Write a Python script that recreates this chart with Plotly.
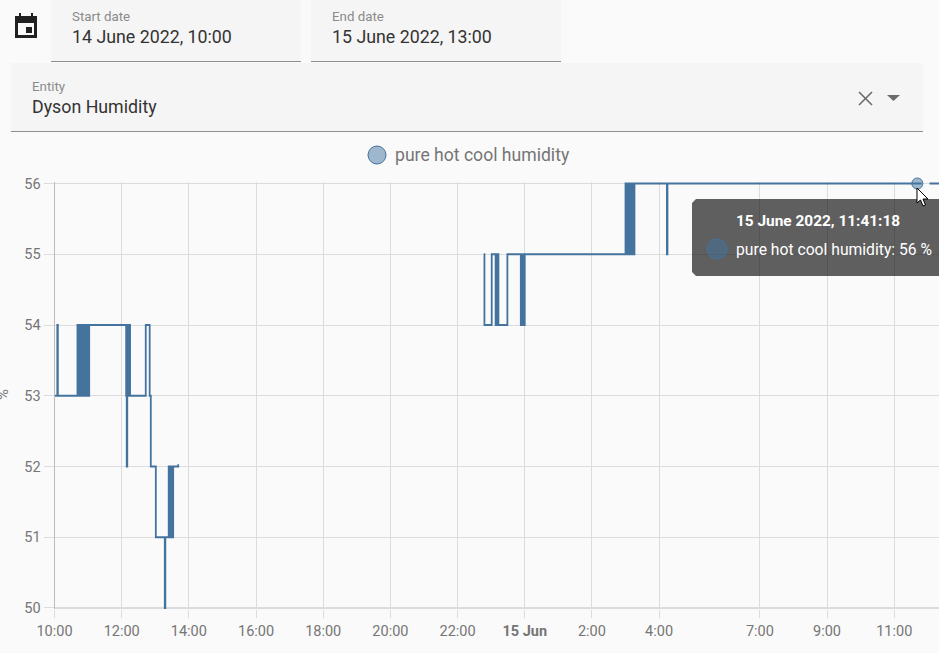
import plotly.graph_objects as go

W, H = 939, 653

# humidity readings
morning_times = ["10:00", "10:05", "10:06", "10:41", "10:43", "10:44", "10:46", "10:47", "10:48",
                 "10:50", "10:51", "10:54", "10:55", "10:58", "10:59", "11:02",
                 "12:08", "12:09", "12:10", "12:11", "12:12", "12:14", "12:15", "12:43", "12:50", "12:52",
                 "13:01", "13:17", "13:18", "13:24", "13:25", "13:27", "13:28", "13:30", "13:31",
                 "13:32", "13:40", "13:41"]
morning_values = [53, 54, 53, 54, 53, 54, 53, 54, 53,
                  54, 53, 54, 53, 54, 53, 54,
                  53, 52, 53, 54, 53, 54, 53, 54, 53, 52,
                  51, 50, 51, 52, 51, 52, 51, 52, 51,
                  52, 52, 52.03]

night_times = ["22:47", "22:48", "23:01", "23:08", "23:09", "23:10", "23:12", "23:13", "23:14", "23:29",
               "23:53", "23:54", "23:56", "23:57", "23:59"]
night_values = [55, 54, 55, 54, 55, 54, 55, 54, 54, 55,
                54, 55, 54, 55, 54]

next_times = ["00:00", "03:00", "03:01", "03:03", "03:04", "03:06", "03:09", "03:10", "03:12", "03:13", "03:15",
              "03:16", "04:14", "04:15", "11:49"]
next_values = [55, 56, 55, 56, 55, 56, 55, 56, 55, 56, 55,
               56, 55, 56, 56]

last_times = ["12:03", "12:20"]
last_values = [56, 56]

hover_time = "2022-06-15 11:41:18"
hover_value = 56

tick_times = ["2022-06-14 10:00", "2022-06-14 12:00", "2022-06-14 14:00", "2022-06-14 16:00", "2022-06-14 18:00",
              "2022-06-14 20:00", "2022-06-14 22:00", "2022-06-15 00:00", "2022-06-15 02:00", "2022-06-15 04:00",
              "2022-06-15 07:00", "2022-06-15 09:00", "2022-06-15 11:00"]
tick_labels = ["10:00", "12:00", "14:00", "16:00", "18:00", "20:00", "22:00", "<b>15 Jun</b>", "2:00", "4:00",
               "7:00", "9:00", "11:00"]
y_ticks = [50, 51, 52, 53, 54, 55, 56]

BLUE = "#44739e"
BLUE_FILL = "rgba(68,115,158,0.5)"
GREY = "#757575"
GRID = "#dcdcdc"
FONT = "Roboto"


def px(x):
    return x / W


def py(y):
    return 1 - y / H


times = [f"2022-06-14 {t}" for t in morning_times] + [None]
values = morning_values + [None]
times += [f"2022-06-14 {t}" for t in night_times] + [f"2022-06-15 {t}" for t in next_times] + [None]
values += night_values + next_values + [None]
times += [f"2022-06-15 {t}" for t in last_times]
values += last_values

fig = go.Figure()
fig.add_trace(go.Scatter(x=times, y=values, mode="lines", line=dict(color=BLUE, width=1.8, shape="hv"),
                         connectgaps=False, showlegend=False))
fig.add_trace(go.Scatter(x=[hover_time], y=[hover_value], mode="markers", cliponaxis=False, showlegend=False,
                         marker=dict(size=11, color=BLUE_FILL, line=dict(color=BLUE, width=1))))


def box(x0, y0, x1, y1, **kw):
    fig.add_shape(type="rect", xref="paper", yref="paper", x0=px(x0), x1=px(x1), y0=py(y1), y1=py(y0),
                  layer=kw.pop("layer", "below"), **kw)


def path(points, **kw):
    d = "M " + " L ".join(f"{px(x):.5f},{py(y):.5f}" for x, y in points) + " Z"
    fig.add_shape(type="path", xref="paper", yref="paper", path=d, **kw)


def circle(cx, cy, r, **kw):
    fig.add_shape(type="circle", xref="paper", yref="paper", x0=px(cx - r), x1=px(cx + r),
                  y0=py(cy + r), y1=py(cy - r), **kw)


def label(x, y, text, size, color, anchor="left", **kw):
    fig.add_annotation(xref="paper", yref="paper", x=px(x), y=py(y), text=text, showarrow=False, xanchor=anchor,
                       yanchor="middle", font=dict(family=FONT, size=size, color=color), **kw)


# form fields above the chart
for x0, x1 in [(51, 301), (311, 561)]:
    box(x0, 0, x1, 61, fillcolor="#f5f5f5", line_width=0)
    box(x0, 61, x1, 62, fillcolor="#8e8e8e", line_width=0)
box(11, 63, 923, 131, fillcolor="#f5f5f5", line_width=0)
box(11, 131, 923, 132, fillcolor="#8e8e8e", line_width=0)

label(70, 16, "Start date", 13.3, "#8a8a8a")
label(70, 36, "14 June 2022, 10:00", 17.8, "#333333")
label(330, 16, "End date", 13.3, "#8a8a8a")
label(330, 36, "15 June 2022, 13:00", 17.8, "#333333")
label(30, 86, "Entity", 13.3, "#8a8a8a")
label(30, 106, "Dyson Humidity", 17.8, "#333333")

# calendar icon
box(15, 16, 37, 38, fillcolor="#212121", line_width=0, layer="above")
box(18, 23, 34, 35, fillcolor="#fafafa", line_width=0, layer="above")
box(26, 27, 32, 33, fillcolor="#212121", line_width=0, layer="above")
box(19, 13, 21, 17, fillcolor="#212121", line_width=0, layer="above")
box(31, 13, 33, 17, fillcolor="#212121", line_width=0, layer="above")

# clear and dropdown icons
for a, b in [((859, 92), (872, 105)), ((872, 92), (859, 105))]:
    fig.add_shape(type="line", xref="paper", yref="paper", x0=px(a[0]), y0=py(a[1]), x1=px(b[0]), y1=py(b[1]),
                  line=dict(color="#6b6b6b", width=1.6))
path([(887, 95), (900, 95), (893.5, 101)], fillcolor="#6b6b6b", line_width=0)

# legend
circle(377, 155, 9, fillcolor=BLUE_FILL, line=dict(color=BLUE, width=1))
label(393, 155, "pure hot cool humidity", 17.6, GREY)

# y axis title, cut off by the window edge
label(3, 395, "%", 15, GREY, anchor="center", textangle=-90)

# bottom axis line sits on the 50 gridline
fig.add_shape(type="line", xref="paper", yref="y", x0=px(54.5), x1=1, y0=50, y1=50, layer="below",
              line=dict(color="#bcbcbc", width=1))

# tooltip
path([(696, 199), (945, 199), (945, 276), (696, 276), (692, 272), (692, 203)],
     fillcolor="rgba(0,0,0,0.62)", line_width=0, layer="above")
circle(717, 249, 10, fillcolor=BLUE_FILL, line=dict(color=BLUE, width=1), layer="above")
label(734, 221, "<b>15 June 2022, 11:41:18</b>", 15.4, "#ffffff")
label(734, 249, "pure hot cool humidity: 56 %", 15.7, "#ffffff")

# mouse pointer
path([(917, 188), (917, 203), (920.5, 200), (923, 206), (925.5, 205), (923, 199), (928, 199)],
     fillcolor="#ffffff", line=dict(color="#000000", width=1), layer="above")

fig.update_layout(
    width=W, height=H, margin=dict(l=0, r=0, t=0, b=0, autoexpand=False),
    paper_bgcolor="#fafafa", plot_bgcolor="#fafafa",
    font=dict(family=FONT, size=14.5, color=GREY),
    xaxis=dict(domain=[px(54.5), 1], type="date", range=["2022-06-14 10:00", "2022-06-15 12:20"],
               tickmode="array", tickvals=tick_times, ticktext=tick_labels, tickangle=0,
               gridcolor=GRID, gridwidth=1, showline=False,
               ticks="outside", ticklen=8, tickcolor=GRID, zeroline=False),
    # a little headroom so the 50 and 56 runs are not clipped by the plot area
    yaxis=dict(domain=[py(609.4), py(182.1)], range=[49.98, 56.02], tickmode="array", tickvals=y_ticks,
               gridcolor=GRID, gridwidth=1, showline=True, linecolor="#bcbcbc", linewidth=1,
               ticks="outside", ticklen=10, tickcolor=GRID, zeroline=False),
)

fig.write_html("out.html", config={"displayModeBar": False},
               post_script="document.body.style.margin='0';document.body.style.background='#fafafa';")
